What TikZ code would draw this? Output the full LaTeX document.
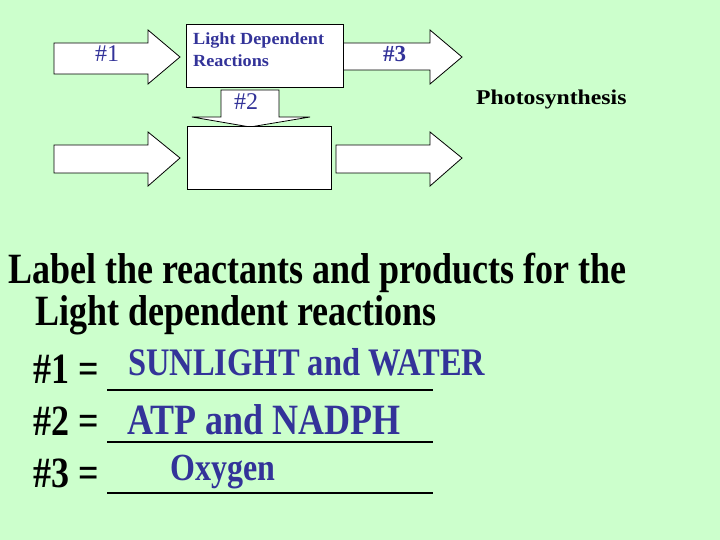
\documentclass[tikz,border=0pt]{standalone}
\usepackage{fontspec}
\setmainfont{Liberation Serif}
\definecolor{bg}{RGB}{204,255,204}
\definecolor{ink}{RGB}{51,51,153}
\tikzset{
  blockarrow/.style={draw=black, fill=white, line width=0.8pt, line join=miter},
  box/.style={draw=black, fill=white, line width=0.8pt, inner sep=0pt},
  lbl/.style={inner sep=0pt, anchor=base west},
  blank/.style={draw=black, line width=2.6pt},
}
\newcommand{\fs}[1]{\fontsize{#1}{#1}\selectfont}
\newcommand{\vs}[1]{\scalebox{1}[1.2]{#1}}
\begin{document}
\begin{tikzpicture}[x=1pt,y=-1pt]
\useasboundingbox[fill=bg] (0,0) rectangle (720,540);
% top-left arrow
\draw[blockarrow] (54,43) -- (148,43) -- (148,30) -- (180,57) -- (148,84) -- (148,74) -- (54,74) -- cycle;
% top-right arrow
\draw[blockarrow] (336,43) -- (430,43) -- (430,30) -- (462,57) -- (430,84) -- (430,70) -- (336,70) -- cycle;
% lower-left arrow
\draw[blockarrow] (54,145) -- (148,145) -- (148,132) -- (180,158) -- (148,186) -- (148,173) -- (54,173) -- cycle;
% lower-right arrow
\draw[blockarrow] (336,145) -- (430,145) -- (430,132) -- (462,158) -- (430,186) -- (430,173) -- (336,173) -- cycle;
% #2 down arrow
\draw[blockarrow] (221,90) -- (279,90) -- (279,117) -- (310,117) -- (250,127) -- (192,117) -- (221,117) -- cycle;
% boxes
\node[box, minimum width=157pt, minimum height=63pt, anchor=north west] (ldr) at (186,24) {};
\node[box, minimum width=144pt, minimum height=63pt, anchor=north west] (calvin) at (187,126) {};
% labels on top diagram
\node[lbl, text=ink] (t1) at (193,45) {\fs{17}\bfseries\scalebox{1.07}[1]{Light Dependent}};
\node[lbl, text=ink] (t2) at (193,67) {\fs{17}\bfseries\scalebox{1.07}[1]{Reactions}};
\node[lbl, text=ink] (n1) at (95,62) {\fs{24}\#1};
\node[lbl, text=ink] (n3) at (383,62) {\fs{23}\bfseries\#3};
\node[lbl, text=ink] (n2) at (234,110) {\fs{24}\#2};
\node[lbl] (ps) at (476,105) {\fs{21}\bfseries\scalebox{1.13}[1]{Photosynthesis}};
% question text
\node[lbl] (q1) at (8,283) {\fs{36}\bfseries\vs{Label the reactants and products for the}};
\node[lbl] (q2) at (35,325) {\fs{36}\bfseries\vs{Light dependent reactions}};
\node[lbl] (h1) at (33,383) {\fs{36}\bfseries\vs{\#1 =}};
\node[lbl] (h2) at (33,435) {\fs{36}\bfseries\vs{\#2 =}};
\node[lbl] (h3) at (33,487) {\fs{36}\bfseries\vs{\#3 =}};
\draw[blank] (107,390) -- (433,390);
\draw[blank] (107,442) -- (433,442);
\draw[blank] (107,493) -- (433,493);
\node[lbl, text=ink] (a1) at (128,375) {\fs{32.5}\bfseries\vs{SUNLIGHT and WATER}};
\node[lbl, text=ink] (a2) at (127,434) {\fs{36}\bfseries\vs{ATP and NADPH}};
\node[lbl, text=ink] (a3) at (170,480) {\fs{32}\bfseries\vs{Oxygen}};
\end{tikzpicture}
\end{document}
